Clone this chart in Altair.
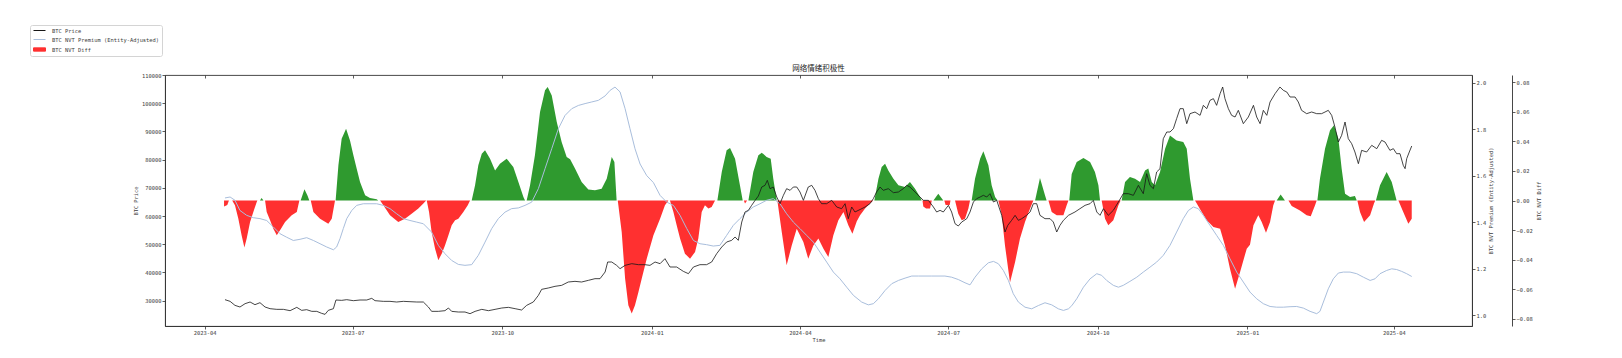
import altair as alt
import pandas as pd

BASE_DATE = "2023-04-01"

# ---- BTC NVT Diff (days after 2023-04-01, value) ----
diff_day = [12, 14, 15, 17,
            18.7, 20.8, 22.8, 24.5, 25.9, 28.0, 30.0, 32.1, 32.5,
            34.1, 35.1, 36.2,
            37.2, 38.2, 40.3, 42.3, 44.4, 46.4, 49.5, 53.6, 56.7, 58.3,
            59.1, 61.4, 63.2, 64.4,
            65.3, 66.9, 71.0, 76.1, 78.2, 80.2,
            80.6, 82.3, 84.3, 87.0, 89.4, 91.5, 93.5, 95.6, 98.7, 101.7, 105.8, 106.8,
            107.9, 109.9, 114.0, 119.1, 123.2, 127.3, 131.4, 134.5, 136.2,
            136.6, 138.0, 139.6, 141.7, 143.7, 145.8, 147.8, 149.9, 151.9, 154.0, 156.0, 159.1, 161.8, 163.2,
            164.2, 166.3, 168.3, 170.4, 172.4, 175.5, 178.6, 181.6, 185.7, 189.8, 192.9, 196.0, 197.0,
            198.0, 200.1, 203.1, 206.2, 209.3, 210.9, 213.4, 216.5, 219.5, 222.6, 224.7, 227.7, 231.8, 235.9,
            240.0, 244.1, 247.2, 250.3, 251.9, 253.3,
            254.0, 256.4, 258.5, 260.5, 262.6, 264.6, 266.7, 268.7, 271.8, 275.9, 280.0, 283.0, 285.1,
            286.1, 288.2, 290.2, 292.3, 295.3, 298.4, 301.5, 303.5, 305.6, 307.6, 309.7, 311.7, 313.8,
            315.2, 317.9, 320.9, 323.0, 326.1, 329.1, 330.8,
            331.5, 332.2, 333.5,
            334.3, 337.3, 340.4, 342.5, 345.5, 348.0, 349.6, 351.7,
            352.1, 354.8, 357.8, 360.9, 364.0, 368.1, 371.1, 374.2, 377.3, 380.4, 383.4, 386.5, 389.6,
            392.7, 395.7, 398.2, 400.9, 402.9, 406.0, 409.0, 411.1,
            411.7, 414.2, 416.2, 418.3, 420.3, 423.4, 426.5, 430.6, 433.6, 436.7, 439.8, 440.8,
            441.3, 441.8, 443.5, 445.9, 447.0,
            448.0, 451.0, 454.1,
            454.7, 455.5, 458.0, 458.5,
            461.3, 463.3, 465.4, 467.4, 469.5, 470.5,
            471.5, 473.6, 476.7, 478.7, 481.8, 483.8, 485.9, 487.5,
            487.9, 490.0, 492.0, 495.1, 498.2, 501.2, 504.3, 507.4, 509.4,
            510.5, 513.5, 516.6, 517.6,
            518.7, 520.7, 523.8, 527.9, 529.9, 531.0,
            531.5, 533.0, 536.1, 540.2, 544.3, 547.3, 549.4, 550.4,
            551.4, 553.5, 555.5, 558.6, 561.7, 563.1,
            563.7, 565.8, 568.8, 571.9, 575.0, 578.1, 580.1, 582.2, 584.2, 587.3, 590.4, 593.4, 597.5,
            601.6, 603.7, 605.7, 607.8,
            608.8, 612.9, 616.0, 620.1, 624.2, 627.2, 630.3, 633.4, 636.5, 640.6, 642.6, 644.7, 647.7,
            649.8, 652.4, 654.9, 656.9, 658.0,
            659.0, 661.4, 664.1,
            666.2, 668.2, 673.3, 677.4, 679.9, 682.6, 683.6,
            684.0, 685.6, 688.7, 691.8, 694.2, 696.9, 698.9, 701.0, 704.1, 707.1, 708.2,
            708.6, 710.2, 712.7, 716.4, 718.8, 719.6,
            720.0, 722.5, 726.6, 729.7, 732.7,
            733.8, 736.8, 739.9, 742.0]
diff_val = [-0.004, -0.003, 0, 0,
            -0.0033, -0.0123, -0.0235, -0.0319, -0.0258, -0.0145, -0.0078, -0.001, 0,
            0, 0.0017, 0,
            0, -0.0078, -0.0134, -0.0191, -0.0236, -0.0202, -0.0146, -0.0100, -0.0078, 0,
            0, 0.0076, 0.0035, 0,
            0, -0.0078, -0.0123, -0.0157, -0.0123, 0,
            0, 0.0238, 0.0419, 0.0486, 0.0407, 0.0306, 0.0216, 0.0125, 0.0035, 0.0017, 0.0008, 0,
            0, -0.0033, -0.0100, -0.0146, -0.0123, -0.0089, -0.0055, -0.0020, 0,
            0, -0.0078, -0.0213, -0.0326, -0.0404, -0.0360, -0.0304, -0.0236, -0.0168, -0.0134, -0.0123, -0.0078, -0.0033, 0,
            0, 0.0103, 0.0238, 0.0317, 0.0340, 0.0283, 0.0204, 0.0249, 0.0283, 0.0227, 0.0125, 0.0024, 0,
            0, 0.0103, 0.0306, 0.0599, 0.0746, 0.0768, 0.0712, 0.0532, 0.0396, 0.0295, 0.0279, 0.0216, 0.0125, 0.0075,
            0.0069, 0.0080, 0.0148, 0.0295, 0.0261, 0,
            0, -0.0213, -0.0529, -0.0710, -0.0766, -0.0710, -0.0620, -0.0530, -0.0394, -0.0236, -0.0123, -0.0033, 0,
            0, -0.0078, -0.0168, -0.0258, -0.0360, -0.0394, -0.0349, -0.0258, -0.0078, -0.0033, -0.0055, -0.0044, 0,
            0, 0.0193, 0.0340, 0.0355, 0.0283, 0.0103, 0,
            0, -0.0020, 0,
            0, 0.0193, 0.0306, 0.0324, 0.0295, 0.0283, 0.0148, 0,
            0, -0.0213, -0.0439, -0.0304, -0.0191, -0.0281, -0.0394, -0.0304, -0.0258, -0.0326, -0.0383, -0.0236, -0.0134,
            -0.0078, -0.0168, -0.0225, -0.0140, -0.0100, -0.0055, -0.0021, 0,
            0, 0.0148, 0.0227, 0.0249, 0.0204, 0.0148, 0.0103, 0.0091, 0.0125, 0.0080, 0.0024, 0,
            0, -0.0040, -0.0055, -0.0055, 0,
            0, 0.0046, 0,
            0, -0.0030, -0.0030, 0,
            0, -0.0089, -0.0134, -0.0123, -0.0055, 0,
            0, 0.0148, 0.0283, 0.0333, 0.0238, 0.0103, 0.0024, 0,
            0, -0.0100, -0.0304, -0.0556, -0.0416, -0.0258, -0.0146, -0.0055, 0,
            0, 0.0152, 0.0035, 0,
            0, -0.0078, -0.0100, -0.0100, -0.0033, 0,
            0, 0.0180, 0.0261, 0.0288, 0.0261, 0.0193, 0.0103, 0,
            0, -0.0123, -0.0168, -0.0134, -0.0033, 0,
            0, 0.0125, 0.0159, 0.0148, 0.0125, 0.0204, 0.0216, 0.0125, 0.0103, 0.0193, 0.0351, 0.0441, 0.0407,
            0.0396, 0.0351, 0.0148, 0,
            0, -0.0078, -0.0134, -0.0179, -0.0191, -0.0304, -0.0462, -0.0597, -0.0484, -0.0326, -0.0300, -0.0168, -0.0100,
            -0.0146, -0.0218, -0.0146, -0.0033, 0,
            0, 0.0040, 0,
            0, -0.0037, -0.0067, -0.0100, -0.0107, -0.0033, 0,
            0, 0.0148, 0.0351, 0.0475, 0.0509, 0.0419, 0.0216, 0.0046, 0.0024, 0.0030, 0,
            0, -0.0078, -0.0146, -0.0100, -0.0021, 0,
            0, 0.0103, 0.0193, 0.0125, 0,
            0, -0.0078, -0.0157, -0.0123]

# ---- BTC Price ----
price_day = [12.6, 15.7, 18.7, 21.8, 24.9, 28.0, 31.0, 34.1, 37.2, 40.3, 44.4, 48.5, 52.6, 56.7, 59.7, 62.8,
             65.9, 69.0, 72.0, 74.1, 76.1, 79.2, 80.8, 84.3, 87.4, 91.5, 95.6, 99.7, 102.8, 104.8, 109.9,
             114.0, 118.1, 122.2, 126.3, 130.4, 134.5, 137.6, 139.6, 143.7, 147.8, 149.9, 151.9, 156.0,
             160.1, 163.2, 166.3, 170.4, 174.5, 178.6, 182.7, 186.8, 190.9, 194.9, 198.0, 202.1, 205.2,
             207.2, 211.3, 215.4, 219.5, 223.6, 227.7, 231.8, 235.9, 240.0, 243.1, 246.2, 247.8, 250.3,
             253.3, 255.4, 258.5, 262.6, 266.7, 270.7, 273.8, 276.9, 280.0, 283.0, 286.1, 290.2, 294.3,
             297.4, 300.5, 304.5, 308.6, 311.7, 314.8, 317.9, 320.9, 324.0, 326.1, 328.1, 330.2, 332.2,
             334.3, 336.3, 338.4, 340.4, 342.5, 344.5, 345.9, 347.6, 349.6, 351.7, 353.7, 355.8, 357.8,
             359.9, 361.9, 364.0, 366.0, 368.1, 371.1, 373.2, 375.2, 377.3, 379.3, 382.4, 385.5, 388.6,
             391.6, 393.7, 395.7, 397.8, 399.8, 402.9, 406.0, 409.0, 411.1, 413.1, 415.2, 417.2, 420.3,
             423.4, 426.5, 429.5, 431.6, 433.6, 436.7, 439.8, 441.8, 444.9, 448.0, 450.0, 452.1, 454.1,
             457.2, 459.2, 461.3, 463.3, 465.4, 468.5, 470.5, 472.6, 474.6, 476.7, 478.7, 480.8, 482.8,
             484.9, 486.9, 490.0, 492.0, 493.7, 496.1, 498.2, 500.2, 502.3, 505.3, 507.4, 509.4, 511.5,
             513.5, 516.6, 519.7, 521.7, 523.8, 525.8, 527.9, 531.0, 535.0, 538.1, 541.2, 544.3, 546.3,
             548.4, 550.4, 552.5, 555.5, 558.6, 561.7, 564.7, 567.8, 570.9, 574.0, 577.0, 579.1, 581.1,
             583.2, 585.2, 587.3, 589.3, 591.4, 593.4, 595.5, 597.5, 599.6, 601.6, 603.7, 605.7, 608.8,
             611.9, 613.9, 616.0, 618.0, 620.1, 622.1, 624.2, 625.8, 627.2, 629.3, 631.3, 633.4, 635.4,
             638.5, 641.6, 644.7, 646.7, 648.8, 650.8, 652.9, 654.9, 658.0, 661.0, 663.1, 665.2, 667.2,
             670.3, 672.3, 674.3, 677.4, 680.5, 683.6, 686.6, 688.7, 690.7, 692.8, 694.8, 696.9, 698.9,
             701.0, 703.0, 705.1, 707.1, 709.2, 711.2, 714.3, 717.4, 720.5, 723.5, 725.6, 728.6, 730.7,
             732.7, 734.8, 736.8, 737.9, 738.9, 740.5, 742.0]
price_val = [30333, 29742, 28323, 27732, 28914, 29505, 28560, 29269, 27732, 27141, 26905, 26905, 26432, 27614, 26550, 26787,
             26196, 26196, 25486, 25131, 26550, 27141, 30214, 30096, 30333, 29978, 30214, 30214, 30804, 29978, 29742,
             29742, 29505, 29742, 29623, 29505, 29505, 27732, 26196, 26196, 26432, 27377, 26196, 25959,
             25959, 25368, 26196, 26905, 26432, 26905, 27377, 27614, 27141, 26668, 28323, 29505, 31869,
             33997, 34469, 35062, 35415, 36597, 36834, 36597, 37188, 37779, 37779, 40143, 43689, 43689,
             42507, 41325, 42507, 43098, 42743, 42743, 42507, 43689, 43098, 44871, 41916, 41916, 40379,
             39552, 41916, 42743, 42743, 43689, 46644, 49008, 50781, 51372, 52554, 51372, 57873, 61419,
             62010, 63783, 65556, 67093, 70284, 70875, 72648, 69693, 70284, 66738, 64374, 67329, 69693,
             69102, 70284, 70284, 68511, 65556, 70284, 70875, 69102, 66147, 64374, 64374, 65556, 63192,
             62601, 64374, 59055, 63192, 61419, 62300, 63192, 64374, 66147, 68511, 70284, 69102, 69693,
             68275, 68511, 69693, 70875, 70284, 68511, 66738, 65556, 65556, 63192, 61419, 62010, 61419,
             63783, 61419, 57282, 56455, 57873, 59055, 61419, 64965, 66147, 66738, 67329, 66738, 67920,
             64965, 65556, 60237, 54327, 56691, 58464, 60237, 58464, 59055, 60237, 61419, 64374, 64374,
             60237, 59055, 59055, 57873, 54327, 56691, 58464, 60237, 61419, 62601, 63783, 64374, 65556,
             61419, 60237, 62601, 60237, 62010, 64965, 67920, 67920, 67329, 70875, 67920, 75012, 70875,
             69693, 75603, 76785, 87423, 89787, 89787, 90969, 94515, 98061, 98061, 92742, 96288, 96879,
             95697, 99243, 98061, 101016, 101607, 99243, 103380, 105744, 101607, 98061, 95697, 95106, 97470,
             92742, 95106, 99243, 95106, 92742, 97470, 95697, 100425, 103380, 105744, 104562, 103971, 102198,
             102198, 100425, 97470, 96288, 96879, 96288, 96288, 96879, 97470, 95697, 91560, 86241, 88605,
             93333, 87423, 85650, 82695, 78558, 83286, 82695, 85059, 83877, 86832, 86241, 83286, 83877,
             82104, 82104, 77967, 76785, 80331, 82695, 84822]

# ---- BTC NVT Premium (Entity-Adjusted) ----
prem_day = [12.6, 15.7, 18.7, 21.8, 25.9, 30.0, 34.1, 38.2, 42.3, 46.4, 50.5, 54.6, 58.7, 62.8, 66.9, 71.0,
            75.1, 79.2, 81.2, 83.3, 85.3, 87.4, 90.5, 93.5, 97.6, 101.7, 105.8, 109.9, 114.0, 118.1, 122.2,
            126.3, 130.4, 134.5, 139.6, 143.7, 147.8, 151.9, 156.0, 160.1, 164.2, 168.3, 172.4, 176.5,
            180.6, 184.7, 188.8, 192.9, 197.0, 201.1, 205.2, 209.3, 213.4, 217.5, 221.6, 225.7, 229.8,
            233.9, 238.0, 242.1, 246.2, 249.3, 252.3, 255.4, 258.5, 261.5, 264.6, 267.7, 271.8, 275.9,
            280.0, 284.1, 288.2, 292.3, 296.4, 300.5, 304.5, 308.6, 312.7, 316.8, 320.9, 325.0, 329.1,
            333.2, 337.3, 341.4, 345.5, 349.6, 353.7, 357.8, 361.9, 366.0, 370.1, 374.2, 378.3, 382.4,
            386.5, 390.6, 394.7, 398.8, 403.9, 408.0, 411.1, 414.2, 418.3, 422.4, 426.5, 430.6, 434.7,
            438.8, 447.0, 455.1, 459.2, 463.3, 467.4, 470.5, 473.6, 477.7, 481.8, 484.9, 487.9, 491.0,
            494.1, 497.1, 500.2, 504.3, 508.4, 512.5, 516.6, 520.7, 524.8, 527.9, 531.0, 533.0, 536.1,
            540.2, 544.3, 548.4, 551.4, 554.5, 558.6, 561.7, 564.7, 568.8, 573.0, 577.0, 581.1, 585.2,
            589.3, 593.4, 597.5, 601.6, 604.7, 607.8, 610.8, 613.9, 618.0, 622.1, 626.2, 630.3, 634.4,
            638.5, 642.6, 646.7, 650.8, 654.9, 659.0, 663.1, 667.2, 671.3, 675.4, 679.5, 683.6, 685.6,
            687.7, 690.7, 693.8, 696.9, 700.0, 704.1, 708.2, 712.3, 716.4, 719.4, 722.5, 726.6, 729.7,
            732.7, 735.8, 738.9, 742.0]
prem_val = [1.504, 1.508, 1.494, 1.450, 1.429, 1.419, 1.415, 1.407, 1.379, 1.350, 1.335, 1.321, 1.326, 1.333, 1.321, 1.307,
            1.293, 1.281, 1.293, 1.329, 1.372, 1.415, 1.450, 1.472, 1.479, 1.479, 1.479, 1.472, 1.458, 1.436, 1.415,
            1.407, 1.400, 1.393, 1.357, 1.300, 1.264, 1.235, 1.218, 1.214, 1.217, 1.257, 1.314, 1.372,
            1.415, 1.443, 1.458, 1.461, 1.472, 1.486, 1.544, 1.630, 1.716, 1.802, 1.859, 1.888, 1.902,
            1.910, 1.917, 1.924, 1.943, 1.967, 1.981, 1.960, 1.888, 1.802, 1.716, 1.650, 1.600, 1.570,
            1.515, 1.486, 1.472, 1.429, 1.372, 1.321, 1.307, 1.303, 1.297, 1.300, 1.343, 1.386, 1.415,
            1.443, 1.465, 1.479, 1.494, 1.501, 1.479, 1.436, 1.400, 1.372, 1.343, 1.314, 1.271, 1.228,
            1.185, 1.156, 1.120, 1.085, 1.056, 1.044, 1.049, 1.070, 1.106, 1.135, 1.149, 1.159, 1.168,
            1.168, 1.168, 1.168, 1.163, 1.153, 1.139, 1.130, 1.163, 1.199, 1.225, 1.231, 1.221, 1.192,
            1.149, 1.092, 1.056, 1.034, 1.027, 1.041, 1.053, 1.044, 1.027, 1.020, 1.027, 1.040, 1.070,
            1.120, 1.156, 1.178, 1.171, 1.149, 1.128, 1.120, 1.128, 1.145, 1.163, 1.185, 1.206, 1.228,
            1.257, 1.300, 1.357, 1.415, 1.450, 1.465, 1.458, 1.429, 1.386, 1.343, 1.300, 1.242, 1.185,
            1.142, 1.099, 1.070, 1.049, 1.037, 1.034, 1.034, 1.036, 1.037, 1.030, 1.016, 1.006, 1.016,
            1.056, 1.113, 1.156, 1.181, 1.185, 1.185, 1.178, 1.163, 1.149, 1.156, 1.178, 1.192, 1.199,
            1.196, 1.188, 1.178, 1.166]

x_tick_months = ["2023-04", "2023-07", "2023-10", "2024-01", "2024-04",
                 "2024-07", "2024-10", "2025-01", "2025-04"]
price_ticks = [30000, 40000, 50000, 60000, 70000, 80000, 90000, 100000, 110000]
prem_ticks = [1.0, 1.2, 1.4, 1.6, 1.8, 2.0]
diff_ticks = [-0.08, -0.06, -0.04, -0.02, 0.0, 0.02, 0.04, 0.06, 0.08]

S_PRICE = "BTC Price"
S_PREM = "BTC NVT Premium (Entity-Adjusted)"
S_DIFF = "BTC NVT Diff"
S_DIFF_POS = "BTC NVT Diff +"
TITLE = "网络情绪积极性"

C_PRICE = "#161616"
C_PREM = "#a9bedc"
C_NEG = "#ff3030"
C_POS = "#2f9a2f"
C_TEXT = "#3c3c3c"

MONO = "DejaVu Sans Mono"
CJK = "Noto Sans CJK SC"


def to_iso(days):
    base = pd.Timestamp(BASE_DATE)
    return [(base + pd.Timedelta(hours=round(d * 24))).strftime("%Y-%m-%dT%H:%M:%S") for d in days]


diff_df = pd.DataFrame({"date": to_iso(diff_day), "v": diff_val})
price_df = pd.DataFrame({"date": to_iso(price_day), "v": price_val})
prem_df = pd.DataFrame({"date": to_iso(prem_day), "v": prem_val})

x_scale = alt.Scale(domain=[alt.DateTime(year=2023, month=3, date=7, hours=17),
                            alt.DateTime(year=2025, month=5, date=19, hours=1)])
x_vals = [alt.DateTime(year=int(m[:4]), month=int(m[5:]), date=1) for m in x_tick_months]

color_scale = alt.Scale(domain=[S_PRICE, S_PREM, S_DIFF, S_DIFF_POS],
                        range=[C_PRICE, C_PREM, C_NEG, C_POS])

is_diff = "datum.value === '" + S_DIFF + "'"
legend = alt.Legend(
    title=None, orient="none", legendX=-135, legendY=-50,
    values=[S_PRICE, S_PREM, S_DIFF],
    labelFont=MONO, labelFontSize=5.4, labelColor=C_TEXT,
    symbolType={"expr": is_diff + " ? 'M-2,-0.55H2V0.55H-2Z' : 'M-2,0H2'"},
    symbolFillColor={"expr": is_diff + " ? '" + C_NEG + "' : 'transparent'"},
    symbolStrokeColor={"expr": is_diff + " ? '" + C_NEG + "' : (datum.value === '" + S_PRICE
                       + "' ? '" + C_PRICE + "' : '" + C_PREM + "')"},
    symbolSize=36, symbolStrokeWidth=1, symbolOpacity=1, symbolOffset=4,
    labelOffset=9, rowPadding=2.0, padding=2,
    strokeColor="#d4d4d4", fillColor="#ffffff", cornerRadius=2,
)

bottom_axis = alt.Axis(values=x_vals, format="%Y-%m", title="Time", orient="bottom",
                       labelPadding=1, titlePadding=2)
top_axis = alt.Axis(values=x_vals, orient="top", labels=False, title=None, domain=False,
                    tickSize=3, offset=-3)

diff_layer = (
    alt.Chart(diff_df)
    .transform_calculate(pos="max(datum.v, 0)", neg="min(datum.v, 0)")
    .transform_fold(["pos", "neg"], as_=["key", "val"])
    .transform_calculate(series="datum.key == 'neg' ? '" + S_DIFF + "' : '" + S_DIFF_POS + "'")
    .mark_area(interpolate="linear")
    .encode(
        x=alt.X("date:T", scale=x_scale, axis=None),
        y=alt.Y("val:Q", stack=None,
                scale=alt.Scale(domain=[-0.085, 0.085], nice=False),
                axis=alt.Axis(orient="right", offset=40, values=diff_ticks, format=".2f",
                              title="BTC NVT Diff", titleAngle=270, titleBaseline="top",
                              titlePadding=4, labelPadding=1)),
        color=alt.Color("series:N", scale=color_scale, legend=legend),
    )
)

prem_layer = (
    alt.Chart(prem_df)
    .transform_calculate(series="'" + S_PREM + "'")
    .mark_line(strokeWidth=1)
    .encode(
        x=alt.X("date:T", scale=x_scale, axis=top_axis),
        y=alt.Y("v:Q", scale=alt.Scale(domain=[0.953, 2.033], nice=False, zero=False),
                axis=alt.Axis(orient="right", values=prem_ticks, format=".1f",
                              title=S_PREM, titleAngle=270, titleBaseline="top",
                              titlePadding=3, labelPadding=1)),
        color=alt.Color("series:N", scale=color_scale, legend=legend),
    )
)

price_layer = (
    alt.Chart(price_df)
    .transform_calculate(series="'" + S_PRICE + "'")
    .mark_line(strokeWidth=0.8)
    .encode(
        x=alt.X("date:T", scale=x_scale, axis=bottom_axis),
        y=alt.Y("v:Q", scale=alt.Scale(domain=[21000, 110000], nice=False, zero=False),
                axis=alt.Axis(orient="left", values=price_ticks, format="d",
                              title=S_PRICE, titlePadding=3, labelPadding=1)),
        color=alt.Color("series:N", scale=color_scale, legend=legend),
    )
)

chart = (
    alt.layer(diff_layer, prem_layer, price_layer)
    .resolve_scale(y="independent")
    .resolve_axis(x="independent")
    .properties(
        width=1307, height=251,
        padding={"left": 165, "top": 75, "right": 150, "bottom": 32},
        autosize=alt.AutoSizeParams(type="none"),
        title=alt.TitleParams(TITLE, font=CJK, fontSize=7.5, fontWeight="normal",
                              color="#222222", frame="group", anchor="middle", offset=2, dy=50),
        background="white",
    )
    .configure_view(stroke="#333333", strokeWidth=0.9)
    .configure_axis(
        grid=False, labelFont=MONO, labelFontSize=5.4, labelColor=C_TEXT,
        titleFont=MONO, titleFontSize=5.4, titleFontWeight="normal", titleColor=C_TEXT,
        tickSize=3, tickColor="#333333", tickWidth=0.8,
        domainColor="#333333", domainWidth=0.9,
    )
)

chart.save("out.html", embed_options={"renderer": "svg", "actions": False})
